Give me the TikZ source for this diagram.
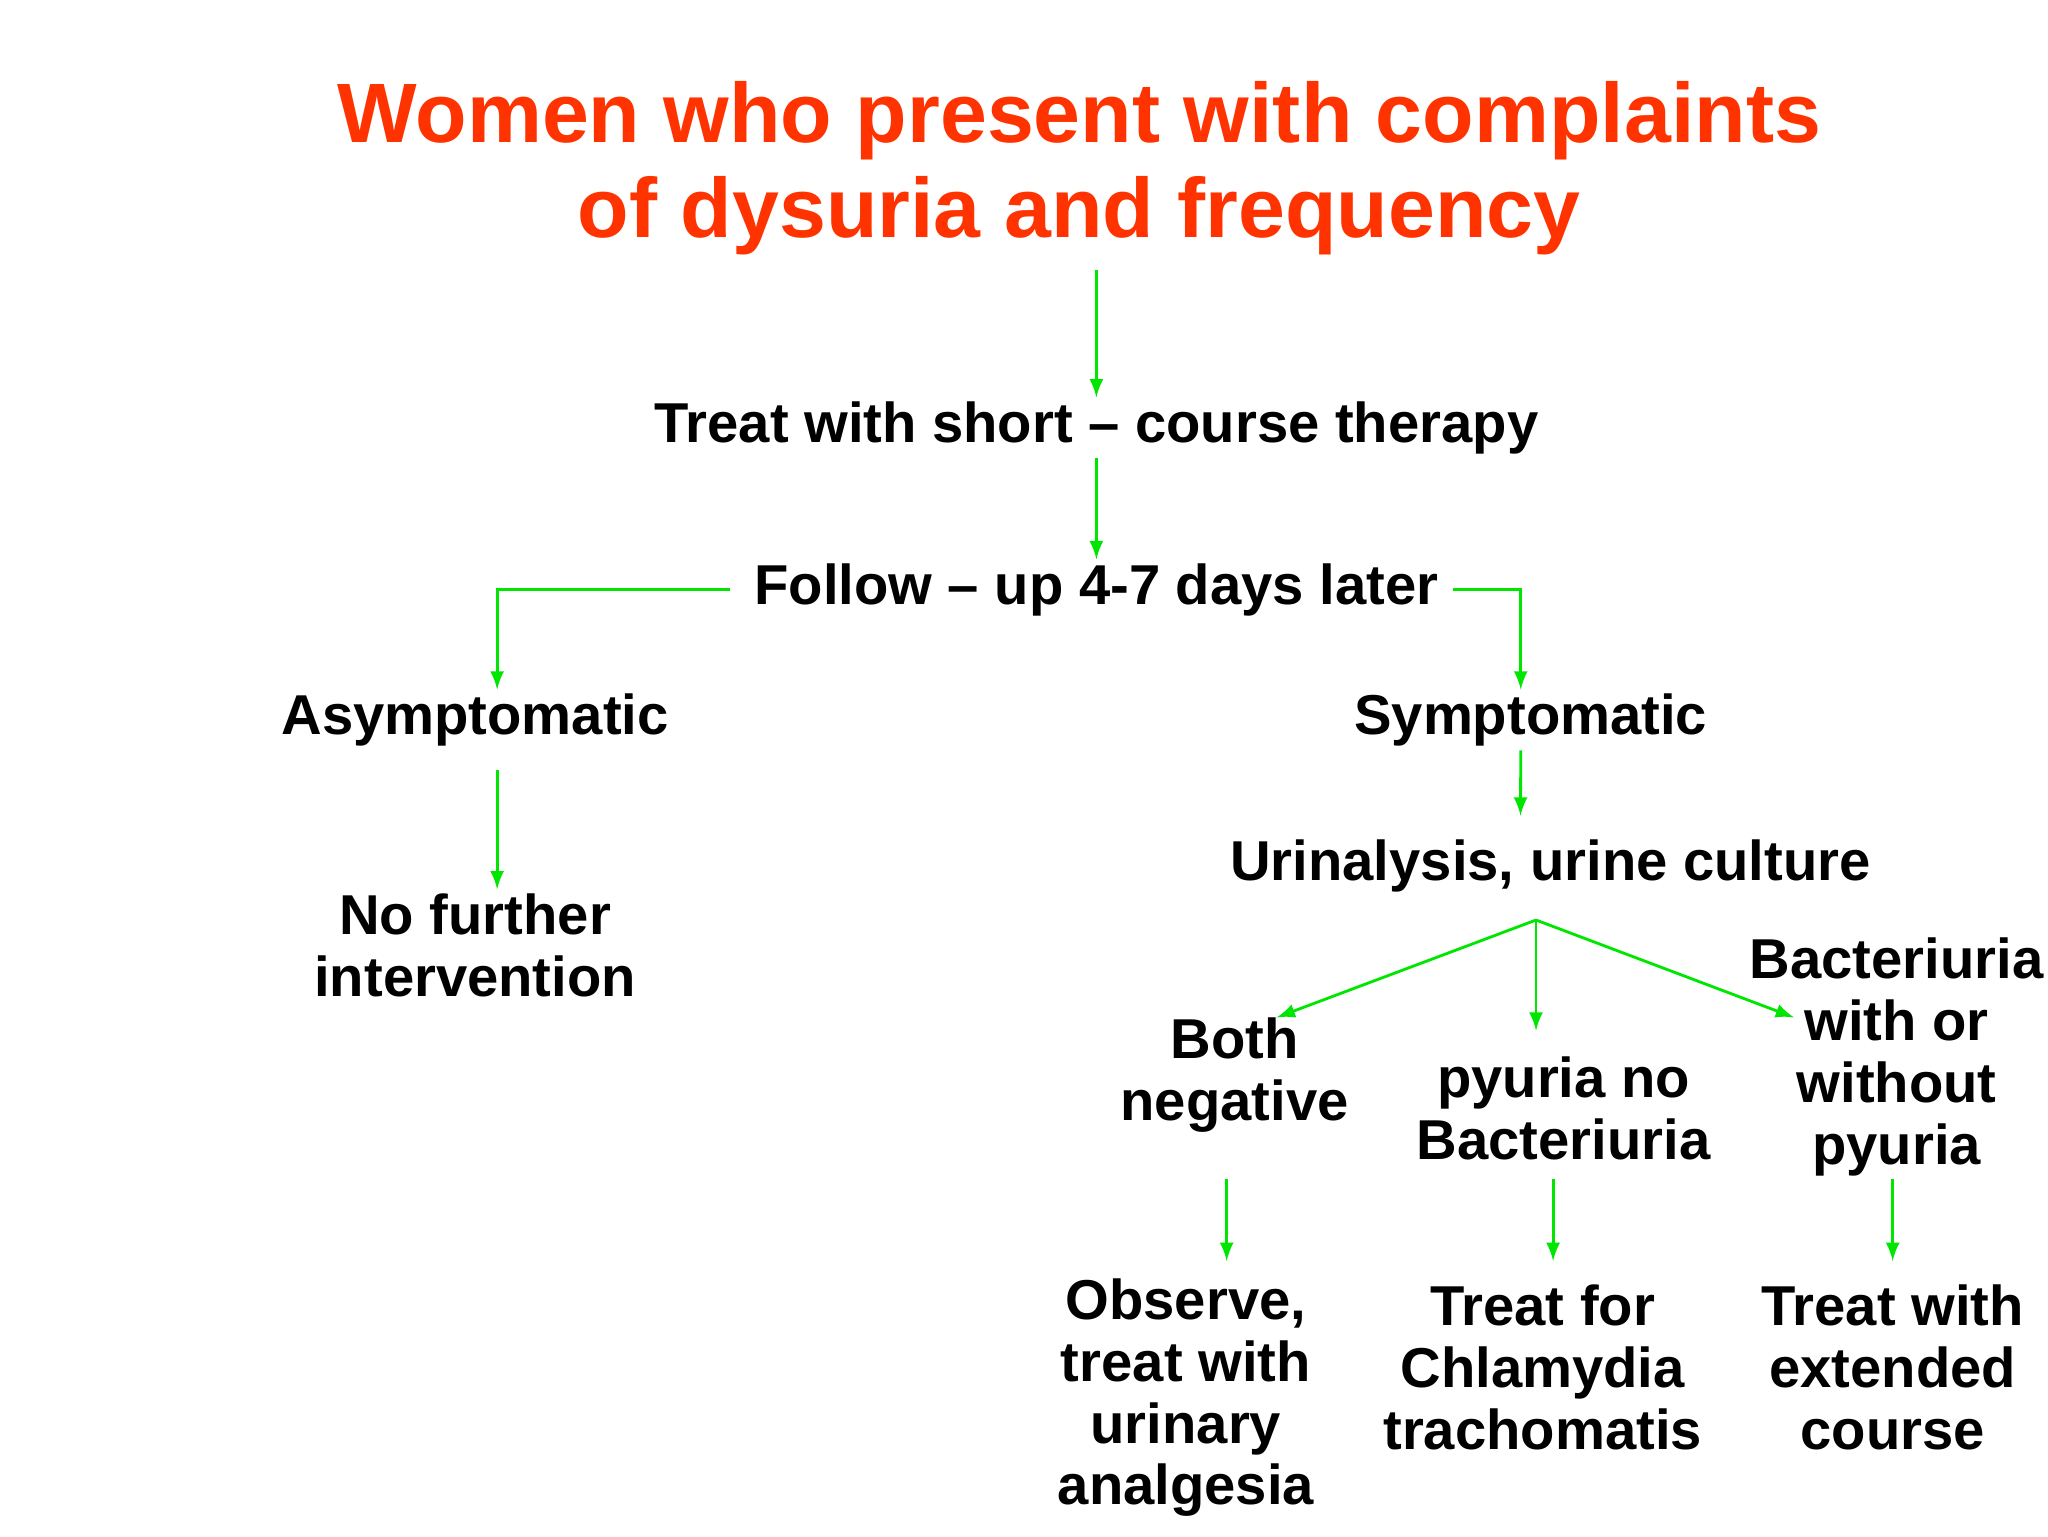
\documentclass[tikz,border=0pt]{standalone}
\usepackage{fontspec}
\setmainfont{Liberation Sans}
\usetikzlibrary{positioning}
\definecolor{titlered}{RGB}{255,51,0}
\definecolor{arrowgreen}{RGB}{0,230,0}

\begin{document}
\begin{tikzpicture}[x=0.013162cm, y=-0.013162cm,
    box/.style={align=center, font=\fontsize{16}{17.6}\selectfont\bfseries, inner sep=1pt},
    heading/.style={align=center, text=titlered, font=\fontsize{24}{27}\selectfont\bfseries},
    arrow/.style={->, >=latex, arrowgreen, line width=0.8pt}
]
    \useasboundingbox (0,0) rectangle (1556,1167);

    % Title
    \node[heading] (title) at (820,128) {Women who present with complaints\\of dysuria and frequency};

    % Main chain
    \node[box] (treat) at (833,325) {Treat with short -- course therapy};
    \node[box] (follow) at (833,448) {Follow -- up 4-7 days later};

    % Branches
    \node[box] (asym) at (361,547) {Asymptomatic};
    \node[box] (sym) at (1163,547) {Symptomatic};
    \node[box] (nofurther) at (361,718) {No further\\intervention};
    \node[box] (urin) at (1178,658) {Urinalysis, urine culture};

    % Results
    \node[box] (both) at (938,817) {Both\\negative};
    \node[box] (pyuria) at (1188,842) {pyuria no\\Bacteriuria};
    \node[box] (bact) at (1441,803) {Bacteriuria\\with or\\without\\pyuria};

    % Outcomes
    \node[box] (observe) at (901,1062) {Observe,\\treat with\\urinary\\analgesia};
    \node[box] (chlam) at (1172,1039) {Treat for\\Chlamydia\\trachomatis};
    \node[box] (extended) at (1438,1039) {Treat with\\extended\\course};

    \coordinate (fork) at (1167,699);

    % Connectors
    \draw[arrow] (833,205) -- (treat.north -| 833,0);
    \draw[arrow] (treat.south -| 833,0) -- (follow.north -| 833,0);
    \draw[arrow] ([xshift=-2mm]follow.west) -| ([xshift=2.2mm]asym.north);
    \draw[arrow] ([xshift=1mm]follow.east) -| ([xshift=-1mm]sym.north);
    \draw[arrow] ([xshift=2.2mm,yshift=-2mm]asym.south) -- ([xshift=2.2mm]nofurther.north);
    \draw[arrow] ([xshift=-1mm]sym.south) -- ([xshift=-3mm,yshift=2mm]urin.north);
    \draw[arrow] (fork) -- (970,773);
    \draw[arrow] (fork) -- (1167,783);
    \draw[arrow] (fork) -- (1363,773);
    \draw[arrow] (932,896) -- (932,958);
    \draw[arrow] (1180,896) -- (1180,958);
    \draw[arrow] (1438,896) -- (1438,958);
\end{tikzpicture}
\end{document}
